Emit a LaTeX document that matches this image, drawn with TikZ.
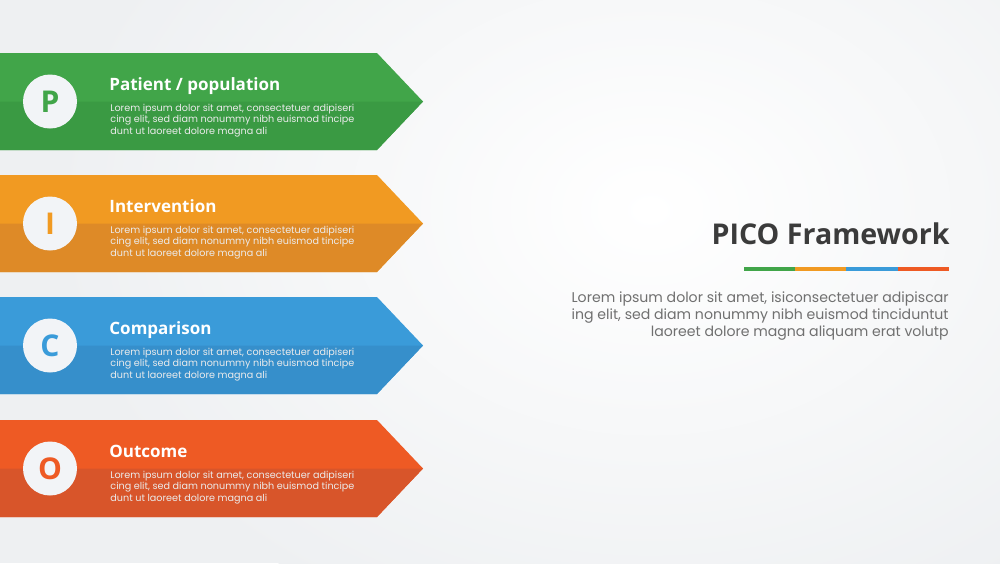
\documentclass[tikz,border=0pt]{standalone}
\usepackage{fontspec}
\usepackage{tikz}
\usetikzlibrary{shadings}
\newfontfamily\headfont{Open Sans}
\newfontfamily\bodyfont{Poppins}
\newfontfamily\titlefont{Open Sans}

\definecolor{greenA}{HTML}{41A549}
\definecolor{greenB}{HTML}{3A9A43}
\definecolor{orangeA}{HTML}{F19A22}
\definecolor{orangeB}{HTML}{DE8A27}
\definecolor{blueA}{HTML}{3A9BD9}
\definecolor{blueB}{HTML}{368FCB}
\definecolor{redA}{HTML}{EE5A24}
\definecolor{redB}{HTML}{D8552A}
\definecolor{disc}{HTML}{F2F4F7}
\definecolor{bgedge}{HTML}{EEF0F2}
\definecolor{titlegray}{HTML}{3B3B3B}
\definecolor{textgray}{HTML}{707070}

\tikzset{
  heading/.style={anchor=base west, inner sep=0pt, text=white, font=\headfont\bfseries\fontsize{8.5}{11}\selectfont},
  body/.style={anchor=base west, inner sep=0pt, align=left, text=white!92!black, font=\bodyfont\fontsize{4.82}{5.85}\selectfont},
  letter/.style={circle, fill=disc, minimum size=27pt, inner sep=0pt, font=\headfont\bfseries\fontsize{15}{15}\selectfont},
  bar/.style={line width=1.6pt}
}

\begin{document}
\begin{tikzpicture}[x=0.5pt,y=-0.5pt]
\useasboundingbox (0,0) rectangle (1000,563);

% background
\fill[bgedge] (0,0) rectangle (1000,563);
\shade[inner color=white, outer color=bgedge] (650,210) ellipse (600 and 450);
\clip (0,0) rectangle (1000,563);

% P banner
\fill[greenA] (0,53) -- (377,53) -- (423,101.5) -- (377,150) -- (0,150) -- cycle;
\fill[greenB] (0,101.5) -- (423,101.5) -- (377,150) -- (0,150) -- cycle;
\node[letter, text=greenA] (circP) at (50,101.5) {P};
\node[heading] (headP) at (109,90) {Patient / population};
\node[body] (bodyP) at (110,134.5) {Lorem ipsum dolor sit amet, consectetuer adipiseri\\cing elit, sed diam nonummy nibh euismod tincipe\\dunt ut laoreet dolore magna ali};

% I banner
\fill[orangeA] (0,175) -- (377,175) -- (423,223.5) -- (377,272) -- (0,272) -- cycle;
\fill[orangeB] (0,223.5) -- (423,223.5) -- (377,272) -- (0,272) -- cycle;
\node[letter, text=orangeA] (circI) at (50,223.5) {I};
\node[heading] (headI) at (109,212) {Intervention};
\node[body] (bodyI) at (110,256.5) {Lorem ipsum dolor sit amet, consectetuer adipiseri\\cing elit, sed diam nonummy nibh euismod tincipe\\dunt ut laoreet dolore magna ali};

% C banner
\fill[blueA] (0,297) -- (377,297) -- (423,345.5) -- (377,394) -- (0,394) -- cycle;
\fill[blueB] (0,345.5) -- (423,345.5) -- (377,394) -- (0,394) -- cycle;
\node[letter, text=blueA] (circC) at (50,345.5) {C};
\node[heading] (headC) at (109,334) {Comparison};
\node[body] (bodyC) at (110,378.5) {Lorem ipsum dolor sit amet, consectetuer adipiseri\\cing elit, sed diam nonummy nibh euismod tincipe\\dunt ut laoreet dolore magna ali};

% O banner
\fill[redA] (0,420) -- (377,420) -- (423,468.5) -- (377,517) -- (0,517) -- cycle;
\fill[redB] (0,468.5) -- (423,468.5) -- (377,517) -- (0,517) -- cycle;
\node[letter, text=redA] (circO) at (50,468.5) {O};
\node[heading] (headO) at (109,457) {Outcome};
\node[body] (bodyO) at (110,501.5) {Lorem ipsum dolor sit amet, consectetuer adipiseri\\cing elit, sed diam nonummy nibh euismod tincipe\\dunt ut laoreet dolore magna ali};

% title block
\node[anchor=base east, inner sep=0pt, text=titlegray, font=\titlefont\bfseries\fontsize{14.3}{16}\selectfont] (title) at (950,244) {PICO Framework};
\draw[bar, greenA] (744,269) -- (795,269);
\draw[bar, orangeA] (795,269) -- (846,269);
\draw[bar, blueA] (846,269) -- (898,269);
\draw[bar, redA] (898,269) -- (949,269);
\node[anchor=base east, inner sep=0pt, align=right, text=textgray, font=\bodyfont\fontsize{7.05}{8.5}\selectfont] (intro) at (949,336) {Lorem ipsum dolor sit amet, isiconsectetuer adipiscar\\ing elit, sed diam nonummy nibh euismod tinciduntut\\laoreet dolore magna aliquam erat volutp};

\end{tikzpicture}
\end{document}
